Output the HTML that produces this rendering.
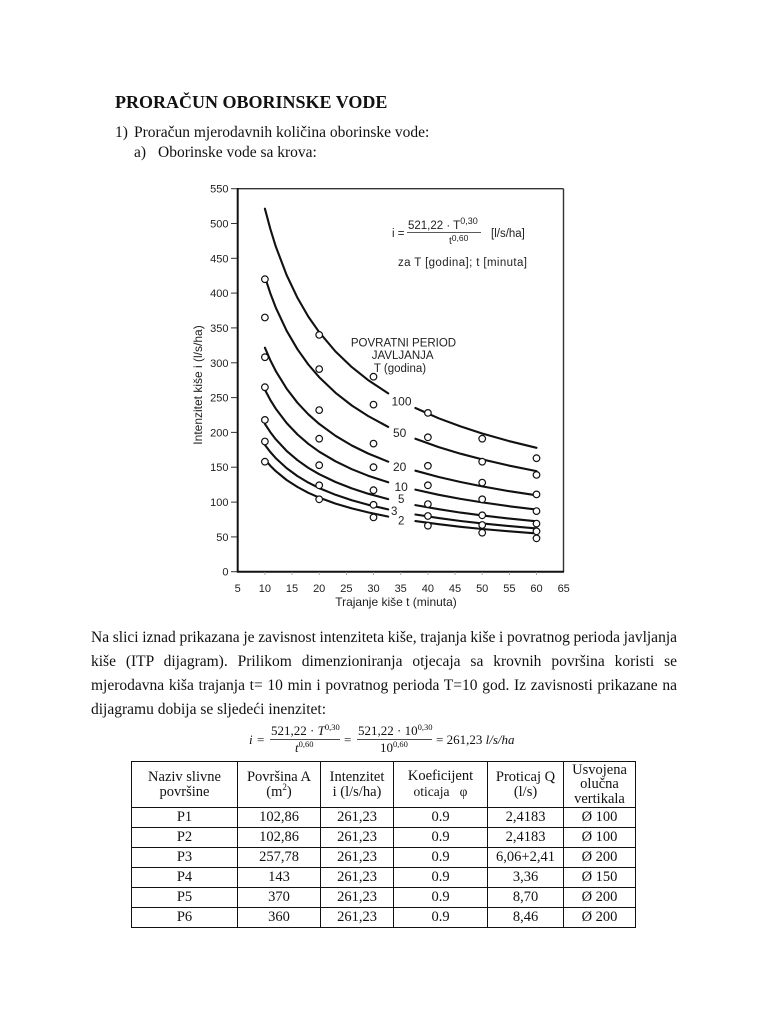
<!DOCTYPE html>
<html>
<head>
<meta charset="utf-8">
<style>
html,body{margin:0;padding:0;background:#fff;}
body{width:768px;height:1024px;position:relative;overflow:hidden;font-family:"Liberation Serif",serif;color:#111;}
.t{position:absolute;white-space:pre;line-height:20px;font-size:15.5px;}
.j{position:absolute;left:91px;width:586px;line-height:20px;font-size:15.5px;text-align:justify;text-align-last:justify;word-spacing:-1.5px;}
table{position:absolute;left:131px;top:761px;width:504px;border-collapse:collapse;table-layout:fixed;font-family:"Liberation Serif",serif;font-size:14.5px;}
td{border:1px solid #111;text-align:center;vertical-align:middle;padding:0;line-height:15px;}
tr.d td{height:19px;}
tr.h td{height:45px;}
sup{font-size:9px;line-height:0;}
</style>
</head>
<body>
<div class="t" style="left:115px;top:92px;font-size:18px;font-weight:bold;">PRORAČUN OBORINSKE VODE</div>
<div class="t" style="left:115px;top:123px;">1)</div>
<div class="t" style="left:134px;top:123px;">Proračun mjerodavnih količina oborinske vode:</div>
<div class="t" style="left:134px;top:143px;">a)</div>
<div class="t" style="left:158px;top:143px;">Oborinske vode sa krova:</div>

<svg style="position:absolute;left:0;top:0" width="768" height="620" viewBox="0 0 768 620" font-family="Liberation Sans, sans-serif">
  <!-- frame -->
  <line x1="237" y1="188.7" x2="563.5" y2="188.7" stroke="#333" stroke-width="1.4"/>
  <line x1="563.5" y1="188.7" x2="563.5" y2="572" stroke="#333" stroke-width="1.4"/>
  <line x1="237.7" y1="188" x2="237.7" y2="572.5" stroke="#111" stroke-width="2"/>
  <line x1="237" y1="571.7" x2="564" y2="571.7" stroke="#111" stroke-width="2"/>
  <!-- y ticks -->
  <g stroke="#333" stroke-width="1">
    <line x1="231" y1="571.7" x2="237" y2="571.7"/>
    <line x1="231" y1="536.9" x2="237" y2="536.9"/>
    <line x1="231" y1="502.1" x2="237" y2="502.1"/>
    <line x1="231" y1="467.2" x2="237" y2="467.2"/>
    <line x1="231" y1="432.4" x2="237" y2="432.4"/>
    <line x1="231" y1="397.6" x2="237" y2="397.6"/>
    <line x1="231" y1="362.8" x2="237" y2="362.8"/>
    <line x1="231" y1="327.9" x2="237" y2="327.9"/>
    <line x1="231" y1="293.1" x2="237" y2="293.1"/>
    <line x1="231" y1="258.3" x2="237" y2="258.3"/>
    <line x1="231" y1="223.5" x2="237" y2="223.5"/>
    <line x1="231" y1="188.7" x2="237" y2="188.7"/>
  </g>
  <g font-size="11" fill="#222" text-anchor="end">
    <text x="228.5" y="575.7">0</text>
    <text x="228.5" y="540.9">50</text>
    <text x="228.5" y="506.1">100</text>
    <text x="228.5" y="471.2">150</text>
    <text x="228.5" y="436.4">200</text>
    <text x="228.5" y="401.6">250</text>
    <text x="228.5" y="366.8">300</text>
    <text x="228.5" y="331.9">350</text>
    <text x="228.5" y="297.1">400</text>
    <text x="228.5" y="262.3">450</text>
    <text x="228.5" y="227.5">500</text>
    <text x="228.5" y="192.7">550</text>
  </g>
  <!-- x ticks -->
  <g stroke="#999" stroke-width="0.8">
    <line x1="264.9" y1="572" x2="264.9" y2="575"/>
    <line x1="292" y1="572" x2="292" y2="575"/>
    <line x1="319.2" y1="572" x2="319.2" y2="575"/>
    <line x1="346.4" y1="572" x2="346.4" y2="575"/>
    <line x1="373.5" y1="572" x2="373.5" y2="575"/>
    <line x1="400.7" y1="572" x2="400.7" y2="575"/>
    <line x1="427.9" y1="572" x2="427.9" y2="575"/>
    <line x1="455" y1="572" x2="455" y2="575"/>
    <line x1="482.2" y1="572" x2="482.2" y2="575"/>
    <line x1="509.4" y1="572" x2="509.4" y2="575"/>
    <line x1="536.5" y1="572" x2="536.5" y2="575"/>
  </g>
  <g font-size="11" fill="#222" text-anchor="middle">
    <text x="237.7" y="592">5</text>
    <text x="264.9" y="592">10</text>
    <text x="292" y="592">15</text>
    <text x="319.2" y="592">20</text>
    <text x="346.4" y="592">25</text>
    <text x="373.5" y="592">30</text>
    <text x="400.7" y="592">35</text>
    <text x="427.9" y="592">40</text>
    <text x="455" y="592">45</text>
    <text x="482.2" y="592">50</text>
    <text x="509.4" y="592">55</text>
    <text x="536.5" y="592">60</text>
    <text x="563.7" y="592">65</text>
  </g>
  <text x="396" y="606" font-size="12" fill="#222" text-anchor="middle">Trajanje kiše t (minuta)</text>
  <text transform="translate(202,385) rotate(-90)" font-size="12" fill="#222" text-anchor="middle">Intenzitet kiše i (l/s/ha)</text>

  <!-- formula in chart -->
  <g fill="#222">
    <text x="392" y="237" font-size="11.5">i =</text>
    <text x="408" y="229" font-size="11.5">521,22 · T<tspan font-size="9" dy="-5">0,30</tspan></text>
    <line x1="407" y1="232.5" x2="481" y2="232.5" stroke="#222" stroke-width="0.8"/>
    <text x="449" y="244" font-size="10">t<tspan font-size="8.5" dy="-3">0,60</tspan></text>
    <text x="491" y="237" font-size="11.5">[l/s/ha]</text>
    <text x="398" y="266" font-size="11.5" textLength="129" lengthAdjust="spacing">za T [godina];  t [minuta]</text>
  </g>
  <g fill="#222" font-size="11.5" text-anchor="middle">
    <text x="403.5" y="346.5">POVRATNI PERIOD</text>
    <text x="402.7" y="359">JAVLJANJA</text>
    <text x="400" y="372">T (godina)</text>
  </g>
  <g fill="#222" font-size="12">
    <text x="391.5" y="405.5">100</text>
    <text x="393" y="437">50</text>
    <text x="393" y="471">20</text>
    <text x="394.5" y="491">10</text>
    <text x="398" y="503" font-size="11.5">5</text>
    <text x="391" y="515" font-size="11.5">3</text>
    <text x="398" y="524.5" font-size="11.5">2</text>
  </g>

  <!-- curves -->
  <g fill="none" stroke="#111" stroke-width="2.1" stroke-linejoin="round" stroke-linecap="round">
    <polyline points="264.9,208.7 270.3,228.8 275.7,246.3 286.6,275.0 297.5,297.9 308.3,316.6 319.2,332.2 335.5,351.5 351.8,367.1 368.1,380.1 388.2,393.4"/>
    <polyline points="415.4,408.0 438.7,418.3 460.5,426.4 482.2,433.5 509.4,441.2 536.5,447.8"/>
    <polyline points="264.9,276.9 270.3,293.2 275.7,307.4 286.6,330.7 297.5,349.3 308.3,364.5 319.2,377.2 335.5,392.8 351.8,405.5 368.1,416.0 388.2,426.9"/>
    <polyline points="415.4,438.7 438.7,447.1 460.5,453.7 482.2,459.4 509.4,465.7 536.5,471.1"/>
    <polyline points="264.9,347.7 270.3,360.2 275.7,370.9 286.6,388.6 297.5,402.8 308.3,414.3 319.2,423.9 335.5,435.8 351.8,445.5 368.1,453.5 388.2,461.7"/>
    <polyline points="415.4,470.7 438.7,477.0 460.5,482.0 482.2,486.4 509.4,491.2 536.5,495.3"/>
    <polyline points="264.9,389.8 270.3,399.9 275.7,408.6 286.6,423.0 297.5,434.5 308.3,443.8 319.2,451.7 335.5,461.3 351.8,469.2 368.1,475.7 388.2,482.3"/>
    <polyline points="415.4,489.6 438.7,494.8 460.5,498.9 482.2,502.4 509.4,506.3 536.5,509.6"/>
    <polyline points="264.9,423.9 270.3,432.1 275.7,439.2 286.6,450.9 297.5,460.2 308.3,467.9 319.2,474.2 335.5,482.0 351.8,488.4 368.1,493.7 388.2,499.1"/>
    <polyline points="415.4,505.1 438.7,509.2 460.5,512.6 482.2,515.4 509.4,518.6 536.5,521.3"/>
    <polyline points="264.9,444.9 270.3,452.0 275.7,458.1 286.6,468.1 297.5,476.1 308.3,482.6 319.2,488.1 335.5,494.8 351.8,500.2 368.1,504.8 388.2,509.4"/>
    <polyline points="415.4,514.5 438.7,518.1 460.5,521.0 482.2,523.4 509.4,526.1 536.5,528.4"/>
    <polyline points="264.9,459.4 270.3,465.7 275.7,471.1 286.6,480.0 297.5,487.0 308.3,492.8 319.2,497.6 335.5,503.6 351.8,508.4 368.1,512.4 388.2,516.6"/>
    <polyline points="415.4,521.1 438.7,524.2 460.5,526.8 482.2,529.0 509.4,531.3 536.5,533.4"/>
  </g>

  <!-- data points -->
  <g fill="#fff" stroke="#111" stroke-width="1.2">
    <circle cx="264.9" cy="279.2" r="3.3"/><circle cx="264.9" cy="317.5" r="3.3"/><circle cx="264.9" cy="357.2" r="3.3"/><circle cx="264.9" cy="387.2" r="3.3"/><circle cx="264.9" cy="419.9" r="3.3"/><circle cx="264.9" cy="441.5" r="3.3"/><circle cx="264.9" cy="461.7" r="3.3"/>
    <circle cx="319.2" cy="334.9" r="3.3"/><circle cx="319.2" cy="369.1" r="3.3"/><circle cx="319.2" cy="410.1" r="3.3"/><circle cx="319.2" cy="438.7" r="3.3"/><circle cx="319.2" cy="465.2" r="3.3"/><circle cx="319.2" cy="485.3" r="3.3"/><circle cx="319.2" cy="499.3" r="3.3"/>
    <circle cx="373.5" cy="376.7" r="3.3"/><circle cx="373.5" cy="404.6" r="3.3"/><circle cx="373.5" cy="443.6" r="3.3"/><circle cx="373.5" cy="467.2" r="3.3"/><circle cx="373.5" cy="490.2" r="3.3"/><circle cx="373.5" cy="504.8" r="3.3"/><circle cx="373.5" cy="517.4" r="3.3"/>
    <circle cx="427.9" cy="412.9" r="3.3"/><circle cx="427.9" cy="437.3" r="3.3"/><circle cx="427.9" cy="465.8" r="3.3"/><circle cx="427.9" cy="485.3" r="3.3"/><circle cx="427.9" cy="504.1" r="3.3"/><circle cx="427.9" cy="516.0" r="3.3"/><circle cx="427.9" cy="525.7" r="3.3"/>
    <circle cx="482.2" cy="438.7" r="3.3"/><circle cx="482.2" cy="461.7" r="3.3"/><circle cx="482.2" cy="482.6" r="3.3"/><circle cx="482.2" cy="499.3" r="3.3"/><circle cx="482.2" cy="515.3" r="3.3"/><circle cx="482.2" cy="525.0" r="3.3"/><circle cx="482.2" cy="532.7" r="3.3"/>
    <circle cx="536.5" cy="458.2" r="3.3"/><circle cx="536.5" cy="474.9" r="3.3"/><circle cx="536.5" cy="494.4" r="3.3"/><circle cx="536.5" cy="511.1" r="3.3"/><circle cx="536.5" cy="523.6" r="3.3"/><circle cx="536.5" cy="531.3" r="3.3"/><circle cx="536.5" cy="538.3" r="3.3"/>
  </g>
</svg>

<div class="j" style="top:628px;">Na slici iznad prikazana je zavisnost intenziteta kiše, trajanja kiše i povratnog perioda javljanja</div>
<div class="j" style="top:652px;">kiše (ITP dijagram). Prilikom dimenzioniranja otjecaja sa krovnih površina koristi se</div>
<div class="j" style="top:676px;">mjerodavna kiša trajanja t= 10 min i povratnog perioda T=10 god. Iz zavisnosti prikazane na</div>
<div class="t" style="left:91px;top:700px;">dijagramu dobija se sljedeći inenzitet:</div>

<svg style="position:absolute;left:0;top:715px" width="768" height="50" viewBox="0 715 768 50" font-family="Liberation Serif, serif" fill="#111">
  <text x="249" y="744" font-size="13" font-style="italic">i</text>
  <text x="257" y="744" font-size="13">=</text>
  <text x="271" y="735" font-size="13">521,22 · <tspan font-style="italic">T</tspan><tspan font-size="8.5" dy="-5">0,30</tspan></text>
  <line x1="270" y1="739.5" x2="340" y2="739.5" stroke="#111" stroke-width="0.8"/>
  <text x="295" y="752" font-size="13" font-style="italic">t<tspan font-size="8.5" font-style="normal" dy="-5">0,60</tspan></text>
  <text x="344" y="744" font-size="13">=</text>
  <text x="358" y="735" font-size="13">521,22 · 10<tspan font-size="8.5" dy="-5">0,30</tspan></text>
  <line x1="357" y1="739.5" x2="432" y2="739.5" stroke="#111" stroke-width="0.8"/>
  <text x="380" y="752" font-size="13">10<tspan font-size="8.5" dy="-5">0,60</tspan></text>
  <text x="436" y="744" font-size="13">= 261,23 <tspan font-style="italic">l/s/ha</tspan></text>
</svg>

<table>
  <colgroup><col style="width:106px"><col style="width:83px"><col style="width:73px"><col style="width:94px"><col style="width:76px"><col style="width:72px"></colgroup>
  <tr class="h">
    <td>Naziv slivne<br>površine</td>
    <td>Površina A<br>(m<sup>2</sup>)</td>
    <td>Intenzitet<br>i (l/s/ha)</td>
    <td>Koeficijent<br><span style="font-size:13.5px">oticaja&nbsp;&nbsp;&nbsp;φ</span></td>
    <td>Proticaj Q<br>(l/s)</td>
    <td style="line-height:14.5px">Usvojena<br>olučna<br>vertikala</td>
  </tr>
  <tr class="d"><td>P1</td><td>102,86</td><td>261,23</td><td>0.9</td><td>2,4183</td><td>Ø 100</td></tr>
  <tr class="d"><td>P2</td><td>102,86</td><td>261,23</td><td>0.9</td><td>2,4183</td><td>Ø 100</td></tr>
  <tr class="d"><td>P3</td><td>257,78</td><td>261,23</td><td>0.9</td><td>6,06+2,41</td><td>Ø 200</td></tr>
  <tr class="d"><td>P4</td><td>143</td><td>261,23</td><td>0.9</td><td>3,36</td><td>Ø 150</td></tr>
  <tr class="d"><td>P5</td><td>370</td><td>261,23</td><td>0.9</td><td>8,70</td><td>Ø 200</td></tr>
  <tr class="d"><td>P6</td><td>360</td><td>261,23</td><td>0.9</td><td>8,46</td><td>Ø 200</td></tr>
</table>
</body>
</html>
